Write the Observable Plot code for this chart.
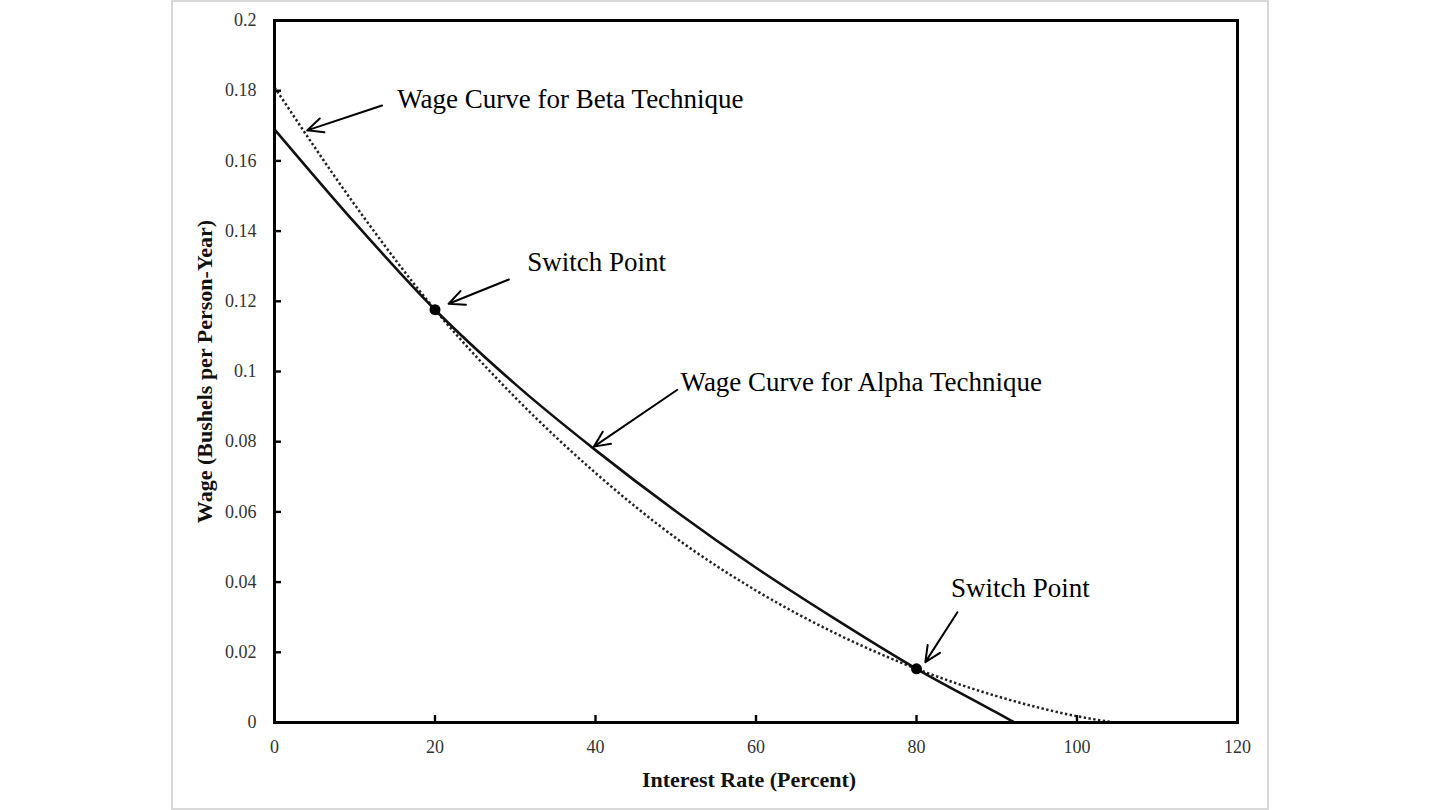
<!DOCTYPE html>
<html>
<head>
<meta charset="utf-8">
<script src="https://cdn.jsdelivr.net/npm/d3@7"></script>
<script src="https://cdn.jsdelivr.net/npm/@observablehq/plot@0.6"></script>
<style>
  html, body { margin: 0; padding: 0; background: #fff; }
  #wrap { position: relative; width: 1440px; height: 810px; overflow: hidden; }
  #border { position: absolute; left: 171px; top: 0px; width: 1094px; height: 806px; border: 2px solid #d9d9d9; pointer-events: none; }
</style>
</head>
<body>
<div id="wrap"><div id="border"></div></div>
<script>
// Interest rate (percent) and wage (bushels per person-year)
const alphaRate = [0, 10, 20, 30, 40, 50, 60, 70, 80, 90, 92.2];
const alphaWage = [0.169, 0.1424, 0.1176, 0.0964, 0.0776, 0.0602, 0.0441, 0.0293, 0.0153, 0.0028, 0];

const betaRate = [0, 10, 20, 30, 40, 50, 60, 70, 80, 90, 100, 104.6];
const betaWage = [0.181, 0.1475, 0.1176, 0.0926, 0.0711, 0.0526, 0.0376, 0.0253, 0.0153, 0.0075, 0.0018, 0];

const switchRate = [20, 80];
const switchWage = [0.1176, 0.0153];

const xTicks = [0, 20, 40, 60, 80, 100, 120];
const yTicks = [0, 0.02, 0.04, 0.06, 0.08, 0.1, 0.12, 0.14, 0.16, 0.18, 0.2];

const labelText = ["Wage Curve for Beta Technique", "Switch Point", "Wage Curve for Alpha Technique", "Switch Point"];
const labelRate = [15.3, 31.5, 50.6, 84.3];
const labelWage = [0.1775, 0.1311, 0.0968, 0.0381];

const arrowFromRate = [13.4, 29.2, 50.2, 85.1];
const arrowFromWage = [0.1758, 0.1262, 0.0948, 0.0314];
const arrowToRate = [4.07, 21.7, 39.8, 81.1];
const arrowToWage = [0.1687, 0.1193, 0.0786, 0.0172];

const xTitle = "Interest Rate (Percent)";
const yTitle = "Wage (Bushels per Person-Year)";

const alpha = alphaRate.map((r, i) => ({r, w: alphaWage[i]}));
const beta = betaRate.map((r, i) => ({r, w: betaWage[i]}));
const switches = switchRate.map((r, i) => ({r, w: switchWage[i]}));
const labels = labelText.map((t, i) => ({t, r: labelRate[i], w: labelWage[i]}));
const arrows = arrowFromRate.map((r, i) => ({r1: r, w1: arrowFromWage[i], r2: arrowToRate[i], w2: arrowToWage[i]}));

const serif = "'Liberation Serif', 'Times New Roman', serif";

const W = 1440, H = 810, mL = 274, mR = 203, mT = 20, mB = 88;
const innerW = W - mL - mR, innerH = H - mT - mB;
const tickLen = 7;

const chart = Plot.plot({
  width: W,
  height: H,
  marginLeft: mL,
  marginRight: mR,
  marginTop: mT,
  marginBottom: mB,
  style: {fontFamily: serif, background: "transparent", overflow: "visible"},
  x: {domain: [0, 120], label: null},
  y: {domain: [0, 0.2], label: null},
  marks: [
    Plot.line(beta, {x: "r", y: "w", stroke: "#222", strokeWidth: 2.5, strokeDasharray: "2.4,2.4", strokeLinecap: "butt", curve: "monotone-x"}),
    Plot.line(alpha, {x: "r", y: "w", stroke: "#111", strokeWidth: 2.6, curve: "monotone-x"}),
    Plot.dot(switches, {x: "r", y: "w", r: 5.5, fill: "#000", stroke: "none"}),
    Plot.arrow(arrows, {x1: "r1", y1: "w1", x2: "r2", y2: "w2", stroke: "#000", strokeWidth: 2, headLength: 13, headAngle: 50}),
    Plot.text(labels, {x: "r", y: "w", text: "t", textAnchor: "start", lineAnchor: "middle", fontSize: 27, fill: "#000"}),
    Plot.tickX(xTicks, {x: d => d, insetTop: innerH - tickLen, stroke: "#000", strokeWidth: 2.4}),
    Plot.tickY(yTicks, {y: d => d, insetRight: innerW - tickLen, stroke: "#000", strokeWidth: 2.4}),
    Plot.frame({stroke: "#000", strokeWidth: 3}),
    Plot.axisX({ticks: xTicks, tickFormat: d => `${d}`, tickSize: 0, tickPadding: 18, fontSize: 18, fill: "#333", label: null}),
    Plot.axisY({ticks: yTicks, tickFormat: d => `${d}`, tickSize: 0, tickPadding: 18, fontSize: 18, fill: "#333", label: null}),
    Plot.text([xTitle], {frameAnchor: "bottom", textAnchor: "middle", dy: 64, dx: -7, text: d => d, fontSize: 22, fontWeight: "bold", fill: "#111"}),
    Plot.text([yTitle], {frameAnchor: "left", textAnchor: "middle", dx: -70, rotate: -90, text: d => d, fontSize: 22, fontWeight: "bold", fill: "#111"})
  ]
});
document.getElementById("wrap").appendChild(chart);
chart.style.position = "absolute";
chart.style.left = "0px";
chart.style.top = "0px";
</script>
</body>
</html>
